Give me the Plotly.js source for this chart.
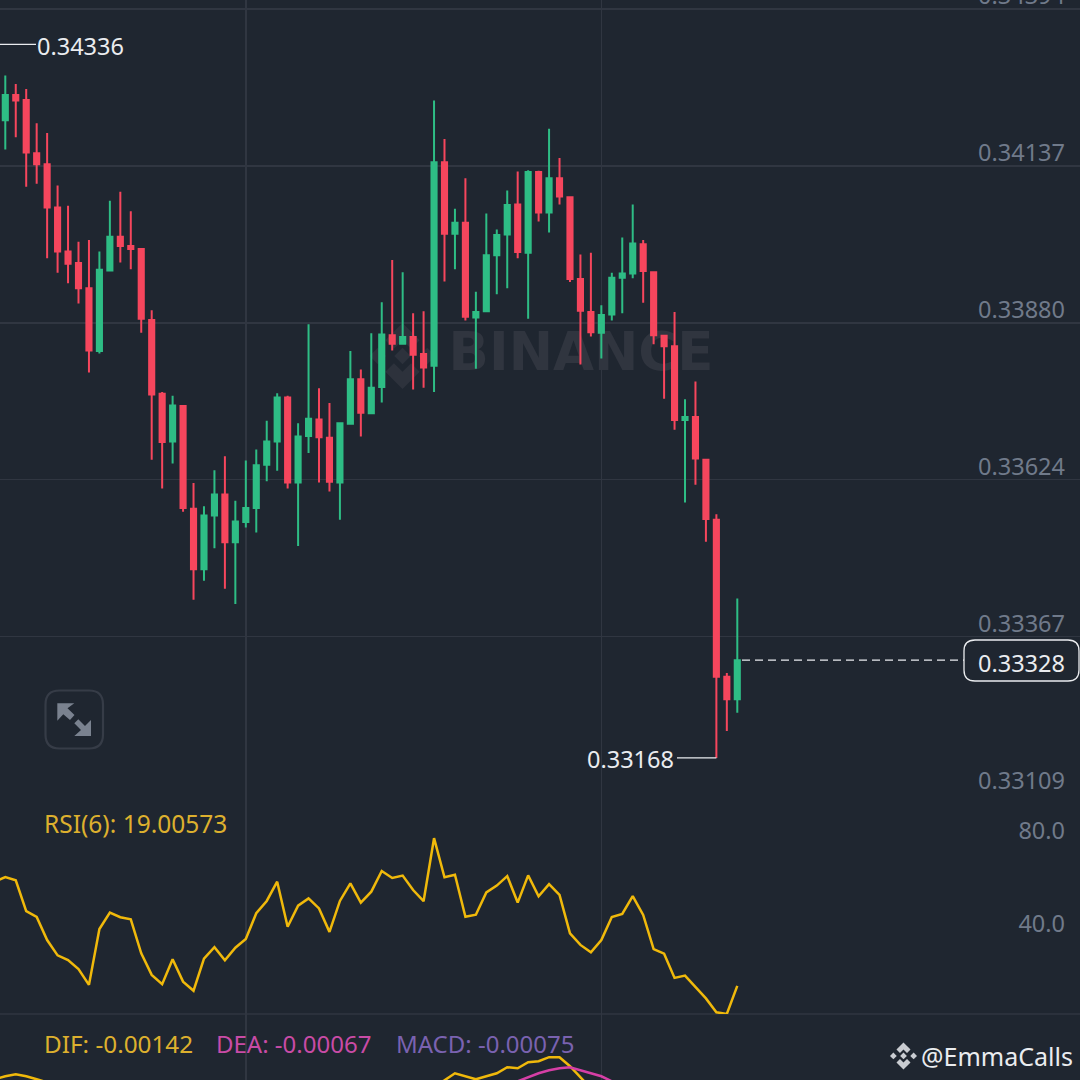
<!DOCTYPE html>
<html>
<head>
<meta charset="utf-8">
<script src="https://cdn.plot.ly/plotly-3.0.1.min.js"></script>
<style>html,body{margin:0;padding:0;background:#1F2630;}#chart{width:1080px;height:1080px;}</style>
</head>
<body>
<div id="chart"></div>
<script>
const openPrices = [.34212,.34253,.34245,.34158,.34140,.34069,.33997,.33978,.33937,.33834,.33966,.34021,.34006,.34001,.33885,.33764,.33686,.33744,.33576,.33477,.33565,.33599,.33521,.33554,.33577,.33648,.33686,.33758,.33619,.33695,.33722,.33692,.33619,.33715,.33788,.33732,.33775,.33860,.33846,.33857,.33829,.33810,.34143,.34026,.34044,.33889,.33899,.33991,.34025,.34074,.33995,.34127,.34061,.34117,.34086,.33952,.33898,.33864,.33894,.33954,.33961,.34009,.33963,.33859,.33842,.33721,.33726,.33656,.33558,.33301,.33264];
const highPrices = [.34285,.34271,.34263,.34207,.34191,.34105,.34072,.34013,.34016,.33997,.34080,.34095,.34063,.34001,.33901,.33767,.33761,.33744,.33618,.33580,.33639,.33662,.33589,.33655,.33673,.33720,.33765,.33761,.33716,.33878,.33773,.33749,.33716,.33834,.33804,.33863,.33914,.33983,.33963,.33896,.33899,.34244,.34181,.34067,.34117,.33931,.34059,.34033,.34097,.34128,.34130,.34129,.34198,.34150,.34087,.33992,.33995,.33909,.33962,.34020,.34074,.34016,.33963,.33860,.33898,.33755,.33784,.33656,.33567,.33307,.33429];
const lowPrices = [.34164,.34184,.34103,.34108,.33986,.33962,.33945,.33912,.33799,.33830,.33966,.33979,.33968,.33864,.33656,.33609,.33650,.33571,.33427,.33458,.33511,.33445,.33420,.33545,.33537,.33621,.33638,.33609,.33515,.33667,.33619,.33604,.33558,.33715,.33694,.33732,.33750,.33835,.33846,.33771,.33774,.33767,.33948,.33968,.33884,.33805,.33899,.33927,.33937,.33986,.33887,.34046,.34028,.34074,.33947,.33812,.33858,.33822,.33884,.33896,.33953,.33913,.33845,.33756,.33705,.33586,.33615,.33522,.33168,.33212,.33242];
const closePrices = [.34253,.34244,.34159,.34140,.34069,.33997,.33977,.33937,.33835,.33967,.34021,.34006,.34001,.33887,.33763,.33685,.33745,.33577,.33477,.33565,.33599,.33521,.33555,.33577,.33647,.33686,.33758,.33619,.33694,.33723,.33693,.33620,.33716,.33788,.33733,.33774,.33861,.33846,.33857,.33828,.33807,.34143,.34026,.34044,.33890,.33898,.33991,.34024,.34073,.33996,.34127,.34061,.34117,.34087,.33952,.33900,.33865,.33893,.33954,.33961,.34010,.33965,.33860,.33842,.33721,.33726,.33658,.33559,.33301,.33264,.33328];
const candleIndex = openPrices.map((_, k) => k);

const rsiValues = [63.7,65.8,64.4,51.1,48.6,38.7,32.1,30.1,26.2,19.4,43.4,50.5,48.5,47.6,33.0,23.7,19.7,30.4,20.8,16.9,30.7,35.6,30.0,35.4,39.1,50.2,55.5,63.8,44.4,53.5,56.6,52.3,42.2,55.5,63.1,54.8,59.5,68.4,65.4,66.4,60.2,55.4,82.5,65.7,66.8,48.7,49.6,59.2,62.1,66.2,54.8,66.5,57.5,62.7,58.1,41.6,36.6,33.4,38.7,48.6,49.9,57.6,49.5,34.8,32.8,22.4,23.4,18.4,13.6,7.6,6.9,19.0];
const rsiIndex = rsiValues.map((_, k) => k - 1);

const difIndex = [-1,0,1,2,3,4,null,41,42,43,44,45,46,47,48,49,50,51,52,53,54,55,56];
const difValues = [.00038,.00041,.00043,.00041,.00038,.00035,null,.00031,.00037,.00044,.00041,.00038,.00041,.00044,.00050,.00049,.00055,.00056,.00060,.00060,.00051,.00039,.00029];
const deaIndex = [49,50,51,52,53,54,55,56,57,58];
const deaValues = [.00036,.00040,.00044,.00047,.00049,.00050,.00047,.00044,.00041,.00036];

const priceTicks = [.34394,.34137,.33880,.33624,.33367,.33109];
const rsiTicks = [80,40];
const gridIndex = [23,57];

const highMark = 0.34336, lowMark = 0.33168, lastPrice = 0.33328;

const BG = '#1F2630', GRID = '#303641', AXIS_TEXT = '#707A8A', GREEN = '#2EBD85', RED = '#F6465D',
      YELLOW = '#F0B90B', PINK = '#D63FA6', WHITE = '#EAECEF';
const FONT = '"Noto Sans", sans-serif';
const S = 1080;
const px = v => v / S, py = v => 1 - v / S;
const xOf = p => (p - 5.3) / 10.457;

function poly(points) {
  return 'M' + points.map(p => px(p[0]).toFixed(5) + ',' + py(p[1]).toFixed(5)).join(' L') + ' Z';
}
function roundRect(x0, y0, x1, y1, r) {
  const P = (x, y) => px(x).toFixed(5) + ',' + py(y).toFixed(5);
  return 'M' + P(x0 + r, y0) + ' L' + P(x1 - r, y0) + ' Q' + P(x1, y0) + ' ' + P(x1, y0 + r) +
    ' L' + P(x1, y1 - r) + ' Q' + P(x1, y1) + ' ' + P(x1 - r, y1) +
    ' L' + P(x0 + r, y1) + ' Q' + P(x0, y1) + ' ' + P(x0, y1 - r) +
    ' L' + P(x0, y0 + r) + ' Q' + P(x0, y0) + ' ' + P(x0 + r, y0) + ' Z';
}
function logoShapes(cx, cy, R, color, layer) {
  const m = pts => pts.map(p => [cx + p[0] * R, cy + p[1] * R]);
  const d = (a, b, h) => [[a, b - h], [a + h, b], [a, b + h], [a - h, b]];
  const parts = [
    [[0, -1], [.52, -.48], [.26, -.22], [0, -.48], [-.26, -.22], [-.52, -.48]],
    [[0, 1], [.52, .48], [.26, .22], [0, .48], [-.26, .22], [-.52, .48]],
    d(0, 0, .25), d(-.75, 0, .25), d(.75, 0, .25)
  ];
  return parts.map(p => ({type: 'path', xref: 'paper', yref: 'paper', path: poly(m(p)), fillcolor: color, line: {width: 0}, layer: layer}));
}

const traces = [
  {type: 'scatter', mode: 'text', x: [xOf(581)], y: [0.33824], text: ['BINANCE'], textposition: 'middle center',
   textfont: {family: '"DejaVu Sans", sans-serif', size: 53, color: '#30353F', weight: 700},
   xaxis: 'x', yaxis: 'y', hoverinfo: 'skip', showlegend: false},
  {type: 'candlestick', x: candleIndex, open: openPrices, high: highPrices, low: lowPrices, close: closePrices,
   xaxis: 'x', yaxis: 'y2', width: 0.55, whiskerwidth: 0, showlegend: false, hoverinfo: 'skip',
   increasing: {line: {color: GREEN, width: 2}, fillcolor: GREEN},
   decreasing: {line: {color: RED, width: 2}, fillcolor: RED}},
  {type: 'scatter', mode: 'lines', x: rsiIndex, y: rsiValues, xaxis: 'x', yaxis: 'y3', cliponaxis: false,
   line: {color: YELLOW, width: 2.5}, hoverinfo: 'skip', showlegend: false},
  {type: 'scatter', mode: 'lines', x: difIndex, y: difValues, xaxis: 'x', yaxis: 'y4', connectgaps: false,
   line: {color: YELLOW, width: 2.5}, hoverinfo: 'skip', showlegend: false},
  {type: 'scatter', mode: 'lines', x: deaIndex, y: deaValues, xaxis: 'x', yaxis: 'y4',
   line: {color: PINK, width: 2.5}, hoverinfo: 'skip', showlegend: false}
];

const label = (text, x, y, color, anchor, size) => ({
  text, xref: 'paper', yref: 'paper', x: px(x), y: py(y), xanchor: anchor || 'left', yanchor: 'middle',
  showarrow: false, font: {family: FONT, size: size || 23.5, color}
});

const annotations = [
  label('RSI(6): 19.00573', 42, 823, '#DDB02E', 'left', 24.5),
  label('DIF: -0.00142', 42, 1043, '#DDB02E', 'left', 24.3),
  label('DEA: -0.00067', 214, 1043, '#C94BA6', 'left', 24),
  label('MACD: -0.00075', 394, 1043, '#7A62B0', 'left', 24),
  label('@EmmaCalls', 1075, 1056, '#EAECEF', 'right', 25),
  {text: highMark.toFixed(5), xref: 'x', yref: 'y', x: xOf(35), y: highMark, xanchor: 'left', yanchor: 'middle', xshift: 0, yshift: -2,
   showarrow: false, font: {family: FONT, size: 23.5, color: WHITE}},
  {text: lowMark.toFixed(5), xref: 'x', yref: 'y', x: xOf(676), y: lowMark, xanchor: 'right', yanchor: 'middle', yshift: -1,
   showarrow: false, font: {family: FONT, size: 23.5, color: WHITE}},
  {text: lastPrice.toFixed(5), xref: 'paper', yref: 'y', x: px(1067), y: lastPrice, xanchor: 'right', yanchor: 'middle', yshift: -3,
   showarrow: false, font: {family: FONT, size: 23.5, color: WHITE}}
];

const shapes = [
  {type: 'line', xref: 'paper', yref: 'paper', x0: 0, x1: 1, y0: py(1014), y1: py(1014), line: {color: GRID, width: 1.5}, layer: 'below'},
  ...logoShapes(402.5, 356, 33, '#2D323C', 'below'),
  ...logoShapes(903.5, 1056, 13.5, '#C9CCD1', 'above'),
  {type: 'line', xref: 'x', yref: 'y', x0: -1, x1: xOf(36), y0: highMark, y1: highMark, line: {color: WHITE, width: 1.3}},
  {type: 'line', xref: 'x', yref: 'y', x0: xOf(677), x1: 68, y0: lowMark, y1: lowMark, line: {color: WHITE, width: 1.3}},
  {type: 'line', xref: 'x', yref: 'y', x0: xOf(742), x1: xOf(964), y0: lastPrice, y1: lastPrice, line: {color: WHITE, width: 1.3, dash: '8px,5px'}},
  {type: 'path', xref: 'paper', yref: 'paper', path: roundRect(964, 640, 1079, 681, 11), fillcolor: BG, line: {color: '#EAECEF', width: 1.3}},
  {type: 'path', xref: 'paper', yref: 'paper', path: roundRect(45.5, 690.5, 103, 748.5, 14), fillcolor: 'rgba(0,0,0,0)', line: {color: '#363C47', width: 2.2}},
  {type: 'path', xref: 'paper', yref: 'paper', fillcolor: '#7A828F', line: {width: 0},
   path: poly([[57.3,703.3],[57.3,720.7],[63.3,714.3],[70,720],[74.5,715],[67.5,708.3],[74.3,703.3]])},
  {type: 'path', xref: 'paper', yref: 'paper', fillcolor: '#7A828F', line: {width: 0},
   path: poly([[91,736],[91,720],[85,726],[78.3,719.3],[74.3,723.3],[81,730],[74.3,736]])}
];

const priceRange = [0.331089, 0.344087];
const tickCommon = {side: 'right', ticklabelposition: 'inside', ticks: '', ticklabeloverflow: 'allow',
  ticklabelstandoff: 12, ticklabelshift: -13, zeroline: false, showline: false, fixedrange: true,
  tickfont: {family: FONT, size: 23.5, color: AXIS_TEXT}};

const layout = {
  width: S, height: S, autosize: false,
  margin: {l: 0, r: 0, t: 0, b: 0, pad: 0},
  paper_bgcolor: BG, plot_bgcolor: BG,
  showlegend: false, hovermode: false,
  font: {family: FONT},
  xaxis: {range: [xOf(0), xOf(1080)], domain: [0, 1], tickmode: 'array', tickvals: gridIndex, showticklabels: false,
    ticks: '', showgrid: true, gridcolor: GRID, gridwidth: 1.5, zeroline: false, showline: false, fixedrange: true,
    rangeslider: {visible: false}},
  yaxis: Object.assign({}, tickCommon, {domain: [py(794), 1], range: priceRange, tickmode: 'array', tickvals: priceTicks,
    tickformat: '.5f', showgrid: true, gridcolor: GRID, gridwidth: 1.5}),
  yaxis2: {overlaying: 'y', side: 'right', range: priceRange, showgrid: false, showticklabels: false, ticks: '', zeroline: false, showline: false, fixedrange: true},
  yaxis3: Object.assign({}, tickCommon, {domain: [py(1014), py(794)], range: [6.88, 101.5], tickmode: 'array', tickvals: rsiTicks,
    tickformat: '.1f', showgrid: false}),
  yaxis4: {domain: [0, 66 / S], range: [0.000373, 0.00103], showgrid: false, showticklabels: false, ticks: '', zeroline: false, showline: false, fixedrange: true},
  annotations, shapes
};

Plotly.newPlot('chart', traces, layout, {staticPlot: true, displayModeBar: false, responsive: false});
</script>
</body>
</html>
